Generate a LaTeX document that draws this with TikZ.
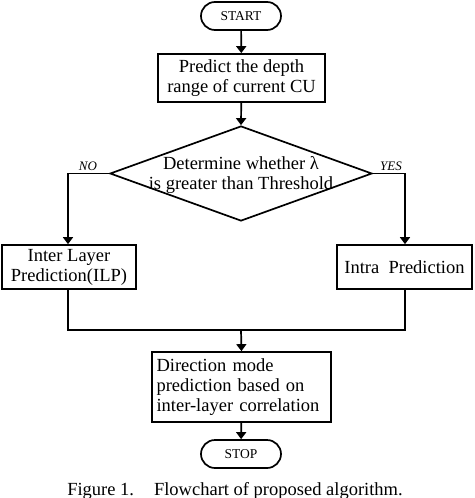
\documentclass[tikz,border=0pt]{standalone}
\usepackage{fontspec}
\setmainfont{Liberation Serif}
\usetikzlibrary{shapes.geometric,arrows.meta}
\newcommand{\mainsize}{\fontsize{18.5}{20}\selectfont}
\tikzset{
  lines/.style={line width=1.7pt},
  arr/.style={lines,-{Triangle[length=7pt,width=10pt]}},
  procbox/.style={draw,lines,rectangle,inner sep=0pt,align=center,font=\mainsize},
  term/.style={draw,lines,rectangle,rounded corners=14pt,minimum width=80pt,minimum height=28pt,inner sep=0pt,font=\fontsize{13.5}{15}\selectfont},
  branch/.style={font=\itshape\fontsize{13}{15}\selectfont,inner sep=0pt}
}
\begin{document}
\begin{tikzpicture}[x=1pt,y=-1pt]
\useasboundingbox (0,0) rectangle (474,498);
\node[term] (start) at (241,16) {START};
\node[procbox,minimum width=167pt,minimum height=48pt] (depth) at (241.5,78) {Predict the depth\\range of current CU};
\node[draw,lines,diamond,minimum width=262pt,minimum height=95pt,inner sep=0pt] (dec) at (241,173.5) {};
\node[align=center,font=\mainsize,inner sep=0pt] (dectext) at (241,175) {Determine whether λ\\is greater than Threshold};
\node[procbox,minimum width=134pt,minimum height=44pt] (ilp) at (69,267) {Inter Layer\\Prediction(ILP)};
\node[procbox,minimum width=135pt,minimum height=44pt] (intra) at (404.5,267) {Intra\ \ Prediction};
\node[procbox,minimum width=179pt,minimum height=70pt,text width=170pt,align=left] (dir) at (241.5,387) {Direction mode\\prediction based on\\inter-layer correlation};
\node[term] (stop) at (241,454) {STOP};
\node[font=\mainsize,inner sep=0pt,anchor=base] (cap) at (235,495) {Figure 1.\hspace{20pt}Flowchart of proposed algorithm.};
\coordinate (nocorner) at (68,173.5);
\coordinate (yescorner) at (405,173.5);
\coordinate (merge) at (241,330);
\node[branch,anchor=south] (no) at (88,171) {NO};
\node[branch,anchor=south] (yes) at (391,171) {YES};
\draw[arr] (start) -- (depth);
\draw[arr] (depth) -- (dec.north);
\draw[arr] (dec.west) -- (nocorner) -- (nocorner |- ilp.north);
\draw[arr] (dec.east) -- (yescorner) -- (yescorner |- intra.north);
\draw[lines] (ilp.south -| nocorner) -- (nocorner |- merge) -- (yescorner |- merge) -- (intra.south -| yescorner);
\draw[arr] (merge) -- (dir.north);
\draw[arr] (dir) -- (stop);
\end{tikzpicture}
\end{document}
